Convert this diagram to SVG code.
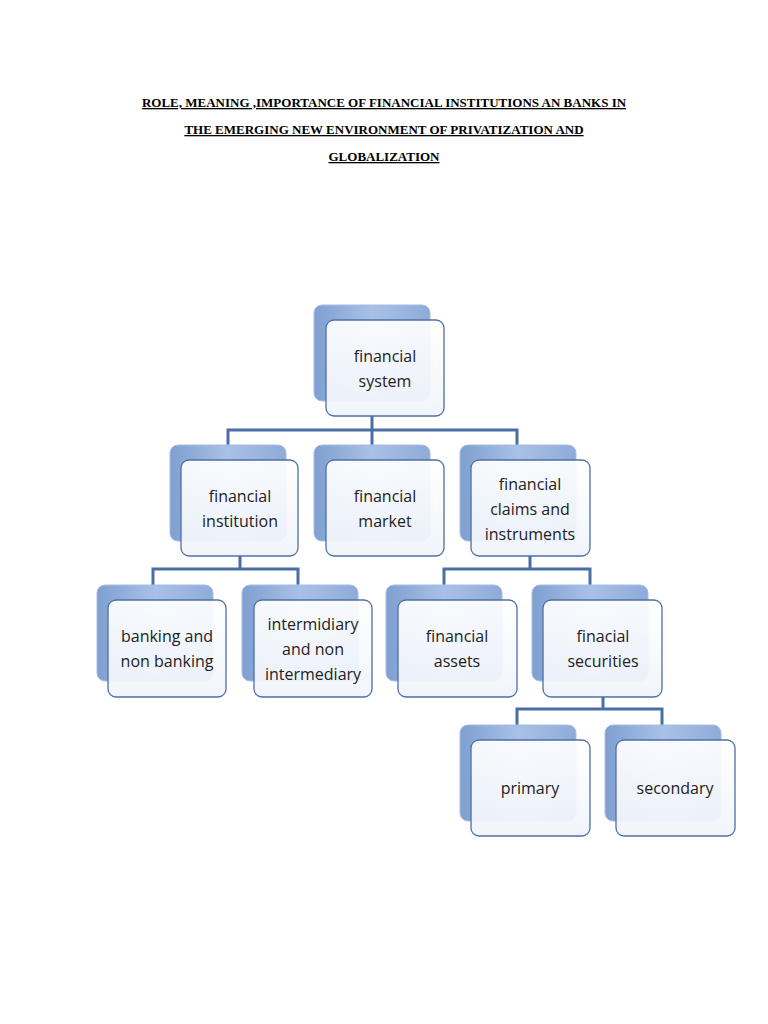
<svg xmlns="http://www.w3.org/2000/svg" width="768" height="1024" viewBox="0 0 768 1024">
<defs>
<linearGradient id="bk" x1="0" y1="0" x2="1" y2="0"><stop offset="0" stop-color="#7e9fd0"/><stop offset="0.5" stop-color="#a9c1e6"/><stop offset="1" stop-color="#8eabd9"/></linearGradient>
<linearGradient id="fr" x1="0" y1="0" x2="0" y2="1"><stop offset="0" stop-color="#ffffff"/><stop offset="1" stop-color="#f0f4fb"/></linearGradient>
</defs>
<style>
.t{font-family:"Liberation Serif",serif;font-weight:bold;font-size:13px;text-decoration:underline;text-anchor:middle}
.bk{fill:url(#bk);stroke:#a8bde0;stroke-width:1}
.fr{fill:url(#fr);fill-opacity:0.93;stroke:#4f6fa8;stroke-width:1.3}
.l{font-family:"Open Sans","Liberation Sans",sans-serif;font-size:16px;fill:#222;text-anchor:middle}
.c{fill:none;stroke:#4a6fa5;stroke-width:3}
</style>
<rect width="768" height="1024" fill="#fff"/>
<text class="t" x="384" y="107">ROLE, MEANING ,IMPORTANCE OF FINANCIAL INSTITUTIONS AN BANKS IN </text>
<text class="t" x="384" y="134">THE EMERGING NEW  ENVIRONMENT OF PRIVATIZATION AND </text>
<text class="t" x="384" y="161">GLOBALIZATION</text>
<g id="connectors">
<path class="c" d="M372 416V430M228 445V430H517V445M372 430V445"/>
<path class="c" d="M240 556V569M153 585V569H298V585"/>
<path class="c" d="M530 556V569M444 585V569H590V585"/>
<path class="c" d="M603 697V709M517 725V709H662V725"/>
</g>
<g id="n-system"><rect class="bk" x="314" y="305" width="116" height="96" rx="8"/><rect class="fr" x="326" y="320" width="118" height="96" rx="8"/><text class="l" x="385" y="362">financial</text><text class="l" x="385" y="387">system</text></g>
<g id="n-institution"><rect class="bk" x="170" y="445" width="116" height="96" rx="8"/><rect class="fr" x="181" y="460" width="117" height="96" rx="8"/><text class="l" x="240" y="502">financial</text><text class="l" x="240" y="527">institution</text></g>
<g id="n-market"><rect class="bk" x="314" y="445" width="116" height="96" rx="8"/><rect class="fr" x="326" y="460" width="118" height="96" rx="8"/><text class="l" x="385" y="502">financial</text><text class="l" x="385" y="527">market</text></g>
<g id="n-claims"><rect class="bk" x="460" y="445" width="116" height="96" rx="8"/><rect class="fr" x="471" y="460" width="119" height="96" rx="8"/><text class="l" x="530" y="490">financial</text><text class="l" x="530" y="515">claims and</text><text class="l" x="530" y="540">instruments</text></g>
<g id="n-banking"><rect class="bk" x="97" y="585" width="116" height="96" rx="8"/><rect class="fr" x="108" y="600" width="118" height="97" rx="8"/><text class="l" x="167" y="642">banking and</text><text class="l" x="167" y="667">non banking</text></g>
<g id="n-intermediary"><rect class="bk" x="242" y="585" width="116" height="96" rx="8"/><rect class="fr" x="254" y="600" width="118" height="97" rx="8"/><text class="l" x="313" y="630">intermidiary</text><text class="l" x="313" y="655">and non</text><text class="l" x="313" y="680">intermediary</text></g>
<g id="n-assets"><rect class="bk" x="386" y="585" width="116" height="96" rx="8"/><rect class="fr" x="398" y="600" width="119" height="97" rx="8"/><text class="l" x="457" y="642">financial</text><text class="l" x="457" y="667">assets</text></g>
<g id="n-securities"><rect class="bk" x="532" y="585" width="116" height="96" rx="8"/><rect class="fr" x="543" y="600" width="119" height="97" rx="8"/><text class="l" x="603" y="642">finacial</text><text class="l" x="603" y="667">securities</text></g>
<g id="n-primary"><rect class="bk" x="460" y="725" width="116" height="96" rx="8"/><rect class="fr" x="471" y="740" width="119" height="96" rx="8"/><text class="l" x="530" y="794">primary</text></g>
<g id="n-secondary"><rect class="bk" x="605" y="725" width="116" height="96" rx="8"/><rect class="fr" x="616" y="740" width="119" height="96" rx="8"/><text class="l" x="675" y="794">secondary</text></g>
</svg>
